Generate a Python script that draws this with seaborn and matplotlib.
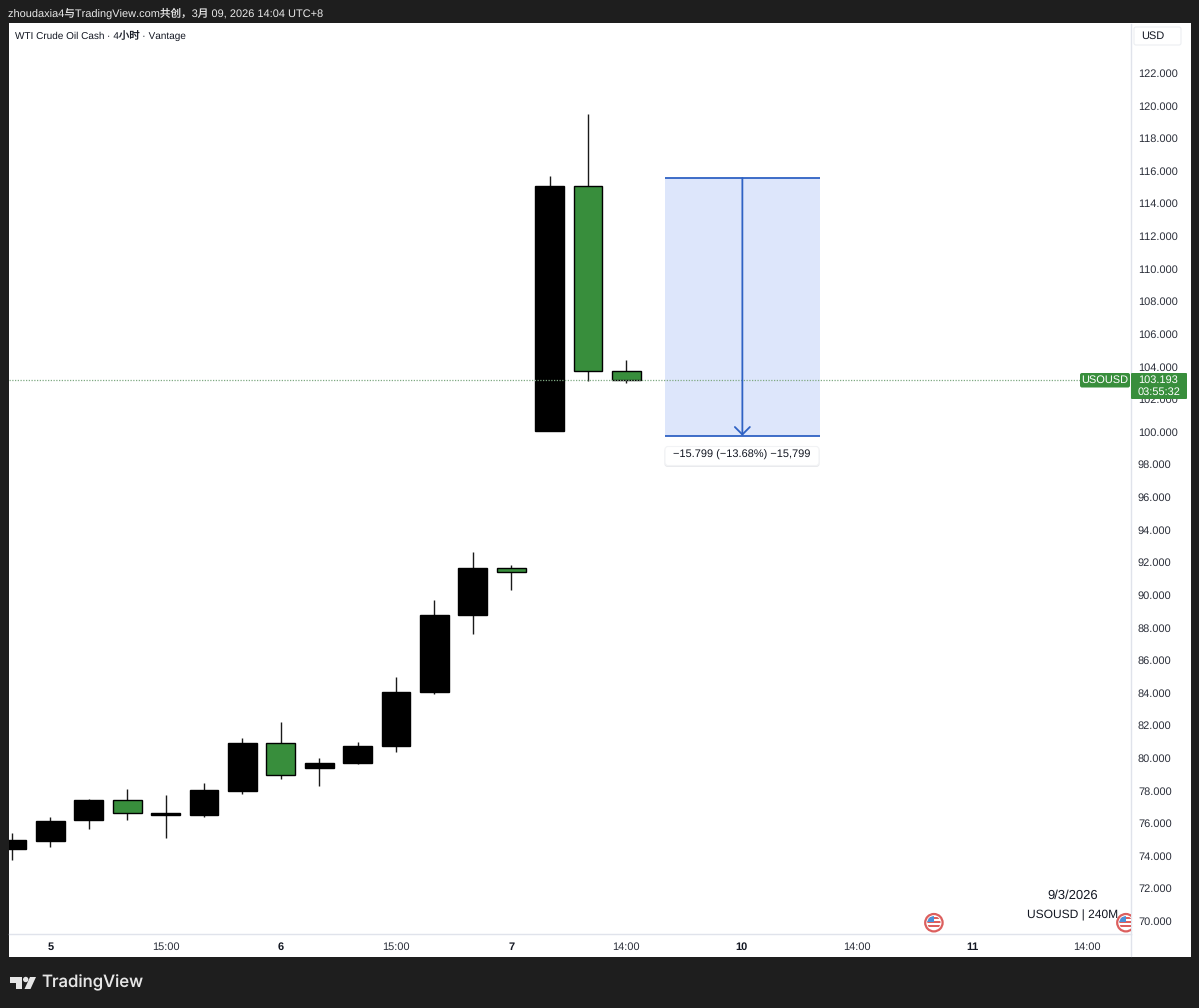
import matplotlib
matplotlib.use("Agg")
import matplotlib.pyplot as plt
from matplotlib.patches import Rectangle, Circle, Polygon, FancyBboxPatch
import pandas as pd
import seaborn as sns

bar_idx = list(range(17))
opens = [74.41, 74.92, 76.17, 77.42, 76.52, 76.52, 77.97, 80.90, 79.38, 79.69, 80.73, 84.04, 88.76, 91.64, 100.04, 115.07, 103.72]
closes = [74.97, 76.15, 77.44, 76.64, 76.65, 78.01, 80.90, 78.93, 79.69, 80.73, 84.04, 88.76, 91.64, 91.40, 115.07, 103.72, 103.17]
highs = [75.40, 76.40, 77.48, 78.11, 77.71, 78.44, 81.20, 82.20, 80.00, 80.97, 84.96, 89.68, 92.62, 91.83, 115.68, 119.48, 104.40]
lows = [73.74, 74.55, 75.66, 76.17, 75.07, 76.39, 77.80, 78.69, 78.28, 79.60, 80.36, 83.90, 87.60, 90.29, 100.04, 103.11, 102.99]
is_green = [False, False, False, True, False, False, False, True, False, False, False, False, False, True, False, True, True]

price_ticks = list(range(70, 124, 2))
time_idx = [1, 4, 7, 10, 13, 16, 19, 22, 25, 28]
time_labels = ["5", "15:00", "6", "15:00", "7", "14:00", "10", "14:00", "11", "14:00"]
day_labels = ["5", "6", "7", "10", "11"]

last_price = 103.193
move_start, move_end = 17, 21.04
move_top, move_bottom = 115.55, 99.75
event_idx = [24, 29]

W, H = 1199, 1008
DARK = "#1e1e1e"
GREEN = "#388e3c"
BLUE = "#2f62c4"
TEXT = "#131722"
FLAG_RED = "#dc5f5e"

sns.set_theme(style="white")
plt.rcParams["font.family"] = ["Liberation Sans", "Noto Sans CJK SC", "DejaVu Sans"]
plt.rcParams["text.hinting"] = "no_hinting"
plt.rcParams["text.hinting_factor"] = 1

df = pd.DataFrame({"idx": bar_idx, "open": opens, "close": closes, "high": highs, "low": lows, "green": is_green})
df["bottom"] = df[["open", "close"]].min(axis=1)
df["height"] = (df["close"] - df["open"]).abs()


def px(size):
    return size * 72 / 100


fig = plt.figure(figsize=(W / 100, H / 100), dpi=100, facecolor=DARK)
fig.add_artist(Rectangle((8.5 / W, 1 - 956.5 / H), 1182 / W, 933.5 / H, transform=fig.transFigure,
                         facecolor="white", edgecolor="none", zorder=0))

ax = fig.add_axes([9 / W, 1 - 934 / H, 1122 / W, 910 / H], zorder=1)

# wicks then bodies
ax.vlines(df["idx"], df["low"], df["high"], color="#1a1a1a", lw=1.0, zorder=2)
for flag, color in [(False, "black"), (True, GREEN)]:
    sub = df[df["green"] == flag]
    sns.barplot(data=sub, x="idx", y="height", bottom=sub["bottom"].values, native_scale=True,
                width=0.755, color=color, saturation=1, errorbar=None, edgecolor="black",
                linewidth=1.0, ax=ax, zorder=3)

ax.set_xlim((9 - 12) / 38.4, (1131 - 12) / 38.4)
ax.set_ylim(70 + (921 - 934) / 16.31, 70 + (921 - 24) / 16.31)

# last price line
ax.axhline(last_price, color="#7fa982", lw=0.9, ls=(0, (1, 1.2)), zorder=4)

# measure box
ax.fill_between([move_start, move_end], move_bottom, move_top, color="#dde6fb", lw=0, zorder=1)
ax.hlines([move_top, move_bottom], move_start, move_end, color=BLUE, lw=1.3, zorder=4)
mid = (move_start + move_end) / 2
ax.annotate("", xy=(mid, move_bottom), xytext=(mid, move_top),
            arrowprops=dict(arrowstyle="->,head_length=0.45,head_width=0.45", color=BLUE, lw=1.3,
                            shrinkA=0, shrinkB=0), zorder=5)

# axes
for side in ["left", "top"]:
    ax.spines[side].set_visible(False)
for side in ["right", "bottom"]:
    ax.spines[side].set_color("#e0e3eb")
    ax.spines[side].set_linewidth(1.0)
ax.set_xlabel("")
ax.set_ylabel("")
ax.yaxis.tick_right()
ax.set_yticks(price_ticks)
ax.set_yticklabels([f"{p:.3f}" for p in price_ticks], fontsize=px(11.5), color="#2a2e39")
ax.set_xticks(time_idx)
ax.set_xticklabels(time_labels, fontsize=px(11.5), color="#2a2e39")
for lab in ax.get_xticklabels():
    if lab.get_text() in day_labels:
        lab.set_fontweight("bold")
        lab.set_color(TEXT)
ax.tick_params(axis="both", length=0)
ax.tick_params(axis="x", pad=5.5)
ax.tick_params(axis="y", pad=5)

# chrome drawn in picture pixels
ov = fig.add_axes([0, 0, 1, 1], zorder=5)
ov.set_xlim(0, W)
ov.set_ylim(H, 0)
ov.axis("off")
ov.patch.set_alpha(0)

ov.plot([1130.7, 1130.7], [934, 955.5], color="#e0e3eb", lw=1.0)
ov.text(8, 13, "zhoudaxia4与TradingView.com共创，3月 09, 2026 14:04 UTC+8", color="#e8e8e8",
        fontsize=px(10.6), va="center")
ov.text(15, 36, "WTI Crude Oil Cash · 4小时 · Vantage", color=TEXT, fontsize=px(10.4), va="center")

# unit button
ov.add_patch(FancyBboxPatch((1134, 27), 47, 18, boxstyle="round,pad=0,rounding_size=2",
                            facecolor="white", edgecolor="#eceef2", lw=0.8))
ov.text(1141, 36.5, "USD", color=TEXT, fontsize=px(11), va="center")

# price labels
ov.add_patch(FancyBboxPatch((1080, 373), 50, 14.5, boxstyle="round,pad=0,rounding_size=2",
                            facecolor=GREEN, edgecolor="none"))
ov.text(1105, 380.5, "USOUSD", color="white", fontsize=px(11), va="center", ha="center")
ov.add_patch(FancyBboxPatch((1131, 373), 56, 26, boxstyle="round,pad=0,rounding_size=1",
                            facecolor=GREEN, edgecolor="none"))
ov.text(1158, 380.5, "103.193", color="white", fontsize=px(11.5), va="center", ha="center")
ov.text(1159, 392, "03:55:32", color="white", fontsize=px(11.5), va="center", ha="center")

# measure label, soft shadow under it
ov.add_patch(FancyBboxPatch((664.5, 448), 155, 19, boxstyle="round,pad=0,rounding_size=3",
                            facecolor="#e9eaed", edgecolor="none"))
ov.add_patch(FancyBboxPatch((665, 446.5), 154, 19, boxstyle="round,pad=0,rounding_size=3",
                            facecolor="white", edgecolor="#f2f3f5", lw=0.8))
ov.text(742, 455, "−15.799 (−13.68%) −15,799", color=TEXT, fontsize=px(11.2), va="center", ha="center")

# watermark text
ov.text(1072.5, 895.5, "9/3/2026", color=TEXT, fontsize=px(13), va="center", ha="center")
ov.text(1072.5, 915.5, "USOUSD | 240M", color=TEXT, fontsize=px(12), va="center", ha="center")

# event flags
pane = Rectangle((9, 24), 1121.5, 910, transform=ov.transData)
for e in event_idx:
    cx, cy = 12 + e * 38.4 + 0.3, 922.7
    ring = Circle((cx, cy), 8.7, facecolor="white", edgecolor=FLAG_RED, lw=1.6)
    ov.add_patch(ring)
    ring.set_clip_path(pane)
    inner = Circle((cx, cy), 6.6, facecolor="white", edgecolor="none")
    ov.add_patch(inner)
    inner.set_clip_path(pane)
    stripes = [
        Rectangle((cx - 7, cy - 5.6), 14, 2.2, facecolor=FLAG_RED, edgecolor="none"),
        Rectangle((cx - 7, cy - 1.6), 14, 2.2, facecolor=FLAG_RED, edgecolor="none"),
        Rectangle((cx - 7, cy + 2.4), 14, 2.2, facecolor=FLAG_RED, edgecolor="none"),
        Rectangle((cx - 7, cy - 7), 7.5, 6.4, facecolor="#4a90d9", edgecolor="none"),
    ]
    for p in stripes:
        ov.add_patch(p)
        p.set_clip_path(pane)
        p.set_clip_path(inner)

# logo
ov.add_patch(Polygon([(10, 977), (21.7, 977), (21.7, 989), (15.5, 989), (15.5, 983), (10, 983)],
                     facecolor="#e6e6e6", edgecolor="none"))
ov.add_patch(Circle((25.7, 979.5), 2.7, facecolor="#e6e6e6", edgecolor="none"))
ov.add_patch(Polygon([(30, 977), (36, 977), (30.5, 989), (24.5, 989)], facecolor="#e6e6e6", edgecolor="none"))
ov.text(41.5, 982.5, "TradingView", color="#e6e6e6", fontsize=px(16.8), va="center",
        family=["Inter", "DejaVu Sans"], fontweight="medium")

fig.savefig("out.png", dpi=100, facecolor=DARK)
